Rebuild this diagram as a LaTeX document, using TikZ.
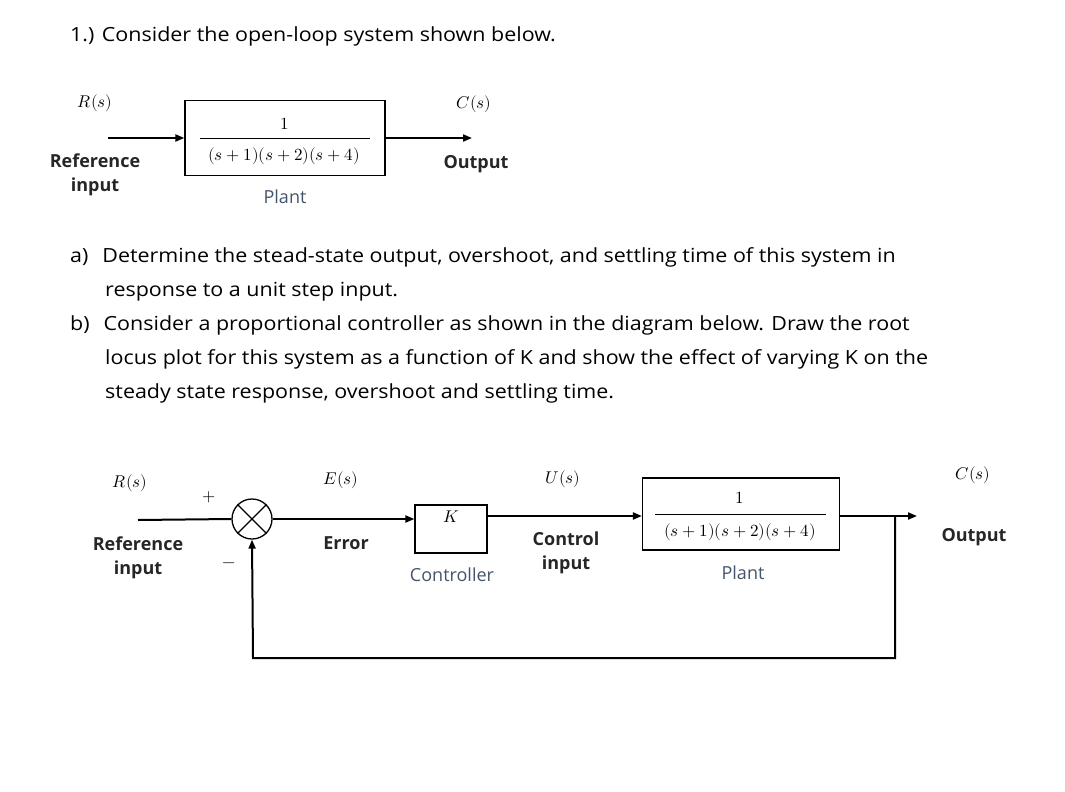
\documentclass[tikz,border=0pt]{standalone}
\usepackage{fontspec}
\setmainfont{Open Sans}
\newfontfamily\qfont{Open Sans}[FakeStretch=1.1]
\usepackage{unicode-math}
\setmathfont{Latin Modern Math}
\usetikzlibrary{arrows.meta}
\definecolor{slate}{HTML}{44546A}
\begin{document}
\begin{tikzpicture}[x=1pt,y=-1pt,
  txt/.style={font=\qfont\fontsize{19.5}{23}\selectfont,anchor=base west,inner sep=0},
  lab/.style={font=\fontsize{18}{22}\selectfont\bfseries\color{black!85},inner sep=0,align=center},
  blu/.style={font=\fontsize{18}{22}\selectfont\color{slate},inner sep=0},
  mth/.style={font=\fontsize{17}{20}\selectfont,inner sep=0},
  blk/.style={draw,line width=1.2pt},
  sig/.style={line width=2pt,-{Triangle[length=9pt,width=7pt]}}]
\useasboundingbox (0,0) rectangle (1065,792);
\node[txt] (t0) at (70,42) {1.) Consider the open-loop system shown below.};
% top diagram
\node[mth] (r1) at (95,103) {$R(s)$};
\node[lab] (ref1) at (95,175) {Reference\\[2pt]input};
\node[blk,minimum width=200pt,minimum height=75pt] (p1) at (285,138) {};
\node[mth] (n1) at (285,124) {$1$};
\node[mth] (d1) at (284,156) {$(s+1)(s+2)(s+4)$};
\draw[line width=0.8pt] (200,138) -- (370,138);
\node[blu] (pl1) at (285,197) {Plant};
\coordinate (in1) at (108,138);
\coordinate (out1) at (472,138);
\draw[sig] (in1) -- (p1.west);
\draw[sig] (p1.east) -- (out1);
\node[mth] (c1) at (474,104) {$C(s)$};
\node[lab] (o1) at (476,164) {Output};
% questions
\node[txt] (qa) at (70,262) {a)\hspace{14pt}Determine the stead-state output, overshoot, and settling time of this system in};
\node[txt] (qa2) at (105,296) {response to a unit step input.};
\node[txt] (qb) at (70,330) {b)\hspace{14pt}Consider a proportional controller as shown in the diagram below. Draw the root};
\node[txt] (qb2) at (105,364) {locus plot for this system as a function of K and show the effect of varying K on the};
\node[txt] (qb3) at (105,398) {steady state response, overshoot and settling time.};
% bottom diagram
\node[mth] (r2) at (130,483) {$R(s)$};
\node[lab] (ref2) at (138,558) {Reference\\[2pt]input};
\coordinate (in2) at (138,520);
\node[draw,circle,line width=1.3pt,minimum size=40pt,inner sep=0] (sum) at (252,519) {};
\draw[line width=1.3pt] (sum.45) -- (sum.225) (sum.135) -- (sum.315);
\node[mth] (plus) at (209,497) {$+$};
\node[mth] (minus) at (229,565) {$-$};
\draw[line width=2pt] (in2) -- (sum.west);
\node[blk,minimum width=72pt,minimum height=48pt] (k) at (451,529) {};
\node[mth] (kk) at (451,517) {$K$};
\draw[sig] (sum.east) -- (k.west |- 0,519);
\node[mth] (e) at (341,480) {$E(s)$};
\node[lab] (err) at (346,543) {Error};
\node[blu] (ctl) at (452,575) {Controller};
\node[blk,minimum width=197pt,minimum height=72pt] (p2) at (741,514) {};
\node[mth] (n2) at (740,498) {$1$};
\node[mth] (d2) at (740,532) {$(s+1)(s+2)(s+4)$};
\draw[line width=0.8pt] (655,514) -- (826,514);
\node[blu] (pl2) at (743,573) {Plant};
\draw[sig] (k.east |- 0,516) -- (p2.west |- 0,516);
\node[mth] (u) at (563,479) {$U(s)$};
\node[lab] (ci) at (566,553) {Control\\[2pt]input};
\coordinate (out2) at (917,516);
\draw[sig] (p2.east |- 0,516) -- (out2);
\node[mth] (c2) at (973,475) {$C(s)$};
\node[lab] (o2) at (974,537) {Output};
\coordinate (br) at (895,516);
\draw[line width=2pt,-{Triangle[length=9pt,width=7pt]}] (br) -- (895,658) -- (253,658) -- (sum.south);
\end{tikzpicture}
\end{document}
